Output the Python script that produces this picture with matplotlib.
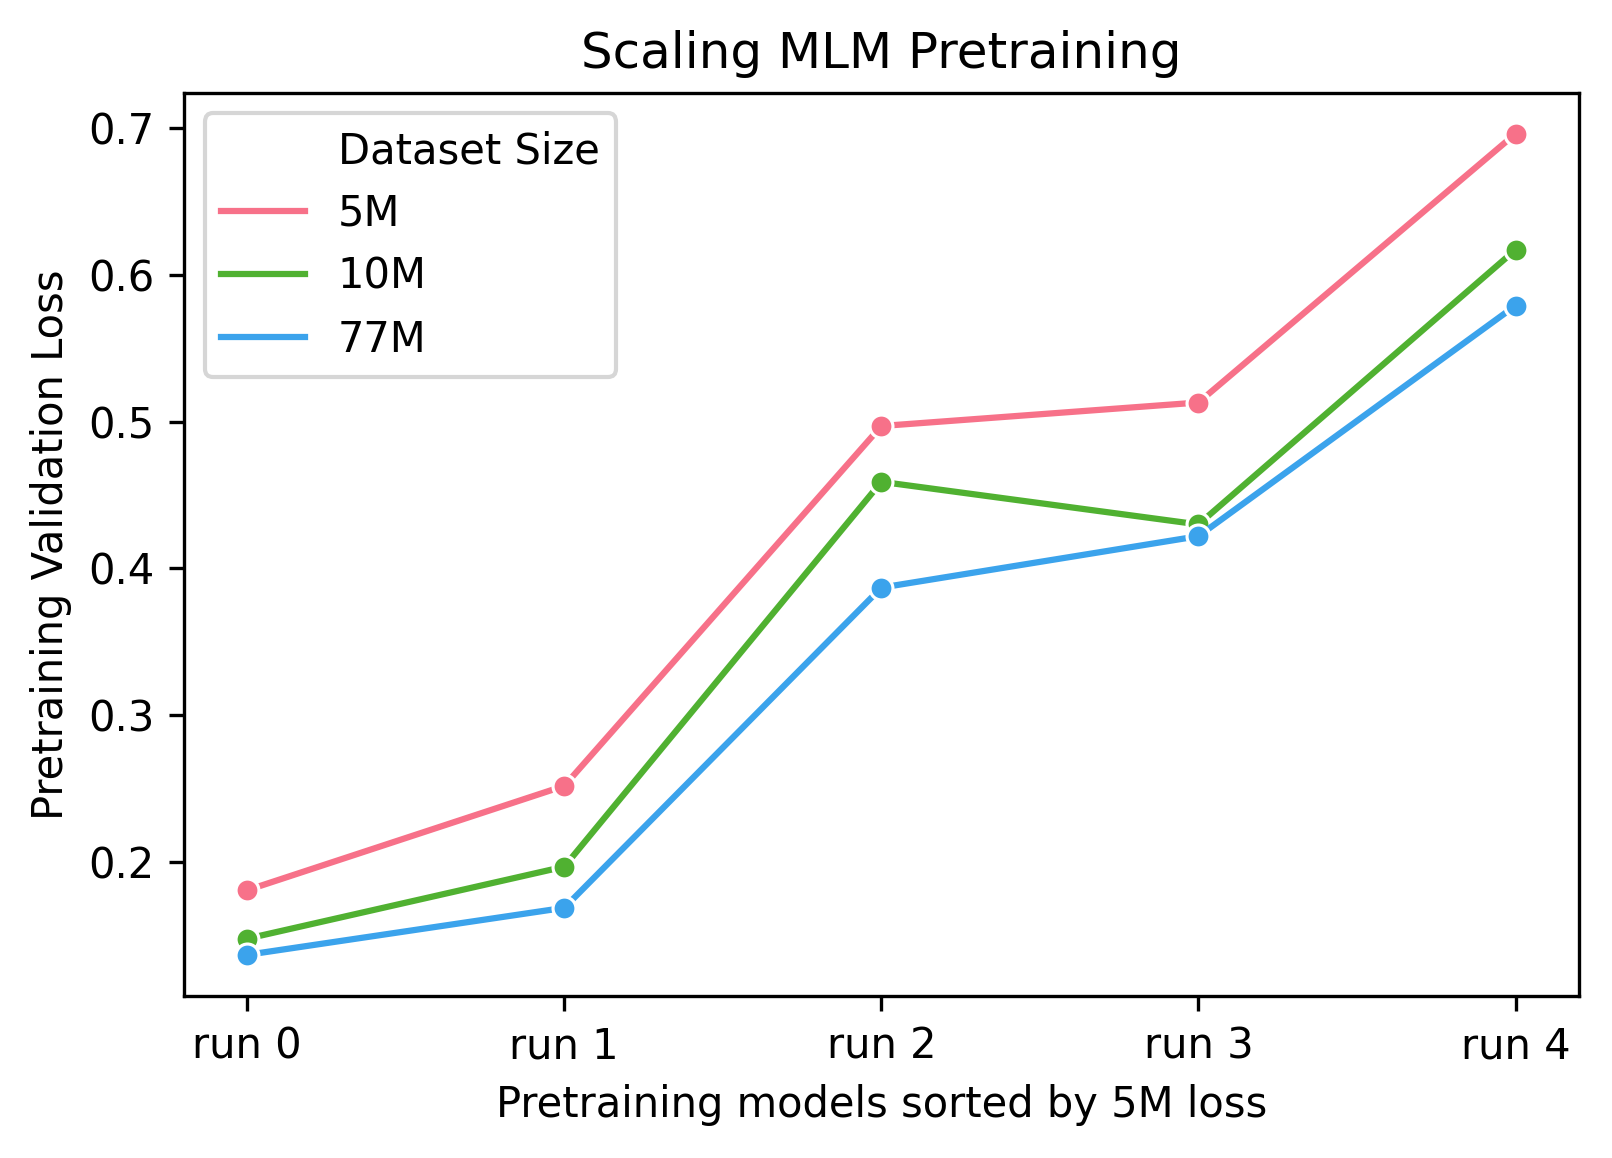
import numpy as np
import matplotlib
matplotlib.use("Agg")
import matplotlib.pyplot as plt
from matplotlib.lines import Line2D
import seaborn as sns

runs = ["run 0", "run 1", "run 2", "run 3", "run 4"]
sizes = ["5M", "10M", "77M"]
loss_5m = [0.181, 0.252, 0.497, 0.513, 0.696]
loss_10m = [0.148, 0.197, 0.459, 0.430, 0.617]
loss_77m = [0.137, 0.169, 0.387, 0.422, 0.579]

colors = sns.color_palette("husl", 3)

fig, ax = plt.subplots(figsize=(1612/300, 1158/300), dpi=300)
fig.subplots_adjust(left=0.114, right=0.9795, top=0.920, bottom=0.140)

x = np.arange(len(runs))
handles = [Line2D([], [], linestyle="none", marker="none")]
labels = ["Dataset Size"]
for vals, lab, c in zip([loss_5m, loss_10m, loss_77m], sizes, colors):
    ax.plot(x, vals, color=c, lw=1.5, marker="o", markersize=5.5,
            markeredgecolor="white", markeredgewidth=0.75)
    handles.append(Line2D([], [], color=c, lw=1.5))
    labels.append(lab)

ax.set_xticks(x)
ax.set_xticklabels(runs)
ax.set_xlabel("Pretraining models sorted by 5M loss")
ax.set_ylabel("Pretraining Validation Loss")
ax.set_title("Scaling MLM Pretraining", fontsize=12)
ax.legend(handles, labels, loc="upper left")

fig.savefig("out.png", dpi=300)
